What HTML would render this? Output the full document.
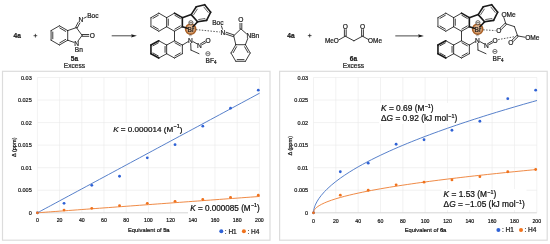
<!DOCTYPE html>
<html><head><meta charset="utf-8"><title>Figure</title>
<style>html,body{margin:0;padding:0;background:#fff}svg{display:block}text{font-family:"Liberation Sans",sans-serif}</style>
</head><body>
<svg width="550" height="244" viewBox="0 0 550 244">
<defs><radialGradient id="brg" cx="0.5" cy="0.4" r="0.6"><stop offset="0" stop-color="#e6c3a3"/><stop offset="1" stop-color="#cf9462"/></radialGradient></defs>
<rect width="550" height="244" fill="#fff"/>
<line x1="59.40" y1="25.80" x2="67.71" y2="30.60" stroke="#1a1a1a" stroke-width="0.85" stroke-linecap="round" />
<line x1="67.71" y1="30.60" x2="67.71" y2="40.20" stroke="#1a1a1a" stroke-width="0.85" stroke-linecap="round" />
<line x1="67.71" y1="40.20" x2="59.40" y2="45.00" stroke="#1a1a1a" stroke-width="0.85" stroke-linecap="round" />
<line x1="59.40" y1="45.00" x2="51.09" y2="40.20" stroke="#1a1a1a" stroke-width="0.85" stroke-linecap="round" />
<line x1="51.09" y1="40.20" x2="51.09" y2="30.60" stroke="#1a1a1a" stroke-width="0.85" stroke-linecap="round" />
<line x1="51.09" y1="30.60" x2="59.40" y2="25.80" stroke="#1a1a1a" stroke-width="0.85" stroke-linecap="round" />
<line x1="59.76" y1="27.97" x2="65.65" y2="31.37" stroke="#1a1a1a" stroke-width="0.85" stroke-linecap="round" />
<line x1="65.65" y1="39.43" x2="59.76" y2="42.83" stroke="#1a1a1a" stroke-width="0.85" stroke-linecap="round" />
<line x1="52.79" y1="38.80" x2="52.79" y2="32.00" stroke="#1a1a1a" stroke-width="0.85" stroke-linecap="round" />
<line x1="67.71" y1="30.60" x2="76.40" y2="27.60" stroke="#1a1a1a" stroke-width="0.85" stroke-linecap="round" />
<line x1="76.40" y1="27.60" x2="82.10" y2="35.40" stroke="#1a1a1a" stroke-width="0.85" stroke-linecap="round" />
<line x1="82.10" y1="35.40" x2="77.93" y2="41.10" stroke="#1a1a1a" stroke-width="0.85" stroke-linecap="round" />
<line x1="73.94" y1="42.35" x2="67.71" y2="40.20" stroke="#1a1a1a" stroke-width="0.85" stroke-linecap="round" />
<text transform="translate(76.60,45.60) scale(0.96,1)" font-size="6.9" text-anchor="middle" font-weight="normal" fill="#1a1a1a" stroke="#1a1a1a" stroke-width="0.22" >N</text>
<text transform="translate(78.90,52.00) scale(0.96,1)" font-size="6.9" text-anchor="middle" font-weight="normal" fill="#1a1a1a" stroke="#1a1a1a" stroke-width="0.22" >Bn</text>
<line x1="82.10" y1="36.30" x2="88.80" y2="36.30" stroke="#1a1a1a" stroke-width="0.85" stroke-linecap="round" />
<line x1="82.10" y1="34.50" x2="88.80" y2="34.50" stroke="#1a1a1a" stroke-width="0.85" stroke-linecap="round" />
<text transform="translate(92.40,38.00) scale(0.96,1)" font-size="6.9" text-anchor="middle" font-weight="normal" fill="#1a1a1a" stroke="#1a1a1a" stroke-width="0.22" >O</text>
<line x1="77.19" y1="28.02" x2="79.90" y2="22.97" stroke="#1a1a1a" stroke-width="0.85" stroke-linecap="round" />
<line x1="75.61" y1="27.18" x2="78.31" y2="22.12" stroke="#1a1a1a" stroke-width="0.85" stroke-linecap="round" />
<text transform="translate(81.00,21.60) scale(0.96,1)" font-size="6.9" text-anchor="middle" font-weight="normal" fill="#1a1a1a" stroke="#1a1a1a" stroke-width="0.22" >N</text>
<line x1="83.90" y1="18.20" x2="86.30" y2="17.00" stroke="#1a1a1a" stroke-width="0.85" stroke-linecap="round" />
<text transform="translate(87.20,18.40) scale(0.96,1)" font-size="6.9" text-anchor="start" font-weight="normal" fill="#1a1a1a" stroke="#1a1a1a" stroke-width="0.22" >Boc</text>
<text transform="translate(17.20,37.90) scale(1.0,1)" font-size="6.6" text-anchor="middle" font-weight="bold" fill="#1a1a1a" stroke="#1a1a1a" stroke-width="0.22" >4a</text>
<text transform="translate(74.40,60.80) scale(1.0,1)" font-size="6.6" text-anchor="middle" font-weight="bold" fill="#1a1a1a" stroke="#1a1a1a" stroke-width="0.22" >5a</text>
<text transform="translate(74.40,67.60) scale(0.96,1)" font-size="6.9" text-anchor="middle" font-weight="normal" fill="#1a1a1a" stroke="#1a1a1a" stroke-width="0.22" >Excess</text>
<line x1="33.95" y1="35.70" x2="36.85" y2="35.70" stroke="#1a1a1a" stroke-width="0.75" stroke-linecap="round" />
<line x1="35.40" y1="34.25" x2="35.40" y2="37.15" stroke="#1a1a1a" stroke-width="0.75" stroke-linecap="round" />
<line x1="112.10" y1="35.80" x2="132.90" y2="35.80" stroke="#1a1a1a" stroke-width="0.8" stroke-linecap="round" />
<polygon points="136.90,35.80 131.10,34.20 131.90,35.80 131.10,37.40" fill="#1a1a1a"/>
<line x1="158.80" y1="13.14" x2="166.65" y2="17.67" stroke="#1a1a1a" stroke-width="0.85" stroke-linecap="round" />
<line x1="166.65" y1="17.67" x2="166.65" y2="26.73" stroke="#1a1a1a" stroke-width="0.85" stroke-linecap="round" />
<line x1="166.65" y1="26.73" x2="158.80" y2="31.26" stroke="#1a1a1a" stroke-width="0.85" stroke-linecap="round" />
<line x1="158.80" y1="31.26" x2="150.95" y2="26.73" stroke="#1a1a1a" stroke-width="0.85" stroke-linecap="round" />
<line x1="150.95" y1="26.73" x2="150.95" y2="17.67" stroke="#1a1a1a" stroke-width="0.85" stroke-linecap="round" />
<line x1="150.95" y1="17.67" x2="158.80" y2="13.14" stroke="#1a1a1a" stroke-width="0.85" stroke-linecap="round" />
<line x1="152.97" y1="18.36" x2="158.39" y2="15.23" stroke="#1a1a1a" stroke-width="0.85" stroke-linecap="round" />
<line x1="158.39" y1="29.17" x2="152.97" y2="26.04" stroke="#1a1a1a" stroke-width="0.85" stroke-linecap="round" />
<line x1="166.65" y1="17.67" x2="174.50" y2="13.14" stroke="#1a1a1a" stroke-width="0.85" stroke-linecap="round" />
<line x1="174.50" y1="13.14" x2="182.35" y2="17.67" stroke="#1a1a1a" stroke-width="1.6" stroke-linecap="round" />
<line x1="182.35" y1="17.67" x2="182.35" y2="26.73" stroke="#1a1a1a" stroke-width="1.6" stroke-linecap="round" />
<line x1="182.35" y1="26.73" x2="174.50" y2="31.26" stroke="#1a1a1a" stroke-width="0.85" stroke-linecap="round" />
<line x1="174.50" y1="31.26" x2="166.65" y2="26.73" stroke="#1a1a1a" stroke-width="0.85" stroke-linecap="round" />
<line x1="168.25" y1="25.33" x2="168.25" y2="19.07" stroke="#1a1a1a" stroke-width="0.85" stroke-linecap="round" />
<line x1="174.86" y1="15.31" x2="180.28" y2="18.44" stroke="#1a1a1a" stroke-width="0.85" stroke-linecap="round" />
<line x1="180.28" y1="25.96" x2="174.86" y2="29.09" stroke="#1a1a1a" stroke-width="0.85" stroke-linecap="round" />
<circle cx="190.70" cy="29.20" r="5.1" fill="url(#brg)" stroke="#a95f25" stroke-width="1.5"/>
<line x1="182.35" y1="17.67" x2="191.20" y2="14.60" stroke="#1a1a1a" stroke-width="1.6" stroke-linecap="round" />
<line x1="191.20" y1="14.60" x2="197.60" y2="21.80" stroke="#1a1a1a" stroke-width="1.6" stroke-linecap="round" />
<line x1="197.60" y1="21.80" x2="192.88" y2="26.86" stroke="#1a1a1a" stroke-width="1.6" stroke-linecap="round" />
<line x1="182.35" y1="26.73" x2="187.25" y2="28.18" stroke="#1a1a1a" stroke-width="1.6" stroke-linecap="round" />
<line x1="191.20" y1="14.60" x2="196.30" y2="6.80" stroke="#1a1a1a" stroke-width="1.6" stroke-linecap="round" />
<line x1="196.30" y1="6.80" x2="204.70" y2="4.70" stroke="#1a1a1a" stroke-width="1.6" stroke-linecap="round" />
<line x1="204.70" y1="4.70" x2="210.70" y2="12.20" stroke="#1a1a1a" stroke-width="1.6" stroke-linecap="round" />
<line x1="210.70" y1="12.20" x2="206.60" y2="20.40" stroke="#1a1a1a" stroke-width="1.6" stroke-linecap="round" />
<line x1="206.60" y1="20.40" x2="197.60" y2="21.80" stroke="#1a1a1a" stroke-width="1.6" stroke-linecap="round" />
<line x1="193.72" y1="14.58" x2="197.29" y2="9.12" stroke="#1a1a1a" stroke-width="0.7" stroke-linecap="round" />
<line x1="203.93" y1="7.11" x2="208.19" y2="12.42" stroke="#1a1a1a" stroke-width="0.7" stroke-linecap="round" />
<line x1="204.89" y1="18.54" x2="198.66" y2="19.51" stroke="#1a1a1a" stroke-width="0.7" stroke-linecap="round" />
<text transform="translate(190.90,31.70) scale(0.96,1)" font-size="6.9" text-anchor="middle" font-weight="normal" fill="#1a1a1a" stroke="#1a1a1a" stroke-width="0.22" >Br</text>
<circle cx="190.90" cy="22.70" r="2.1" fill="#f4ebe2" stroke="#1a1a1a" stroke-width="0.6"/>
<line x1="189.74" y1="22.70" x2="192.05" y2="22.70" stroke="#1a1a1a" stroke-width="0.6" stroke-linecap="round" />
<line x1="158.80" y1="40.75" x2="166.65" y2="45.07" stroke="#1a1a1a" stroke-width="0.85" stroke-linecap="round" />
<line x1="166.65" y1="45.07" x2="166.65" y2="53.73" stroke="#1a1a1a" stroke-width="0.85" stroke-linecap="round" />
<line x1="166.65" y1="53.73" x2="158.80" y2="58.05" stroke="#1a1a1a" stroke-width="0.85" stroke-linecap="round" />
<line x1="158.80" y1="58.05" x2="150.95" y2="53.73" stroke="#1a1a1a" stroke-width="1.6" stroke-linecap="round" />
<line x1="150.95" y1="53.73" x2="150.95" y2="45.07" stroke="#1a1a1a" stroke-width="1.6" stroke-linecap="round" />
<line x1="150.95" y1="45.07" x2="158.80" y2="40.75" stroke="#1a1a1a" stroke-width="1.6" stroke-linecap="round" />
<line x1="152.95" y1="45.80" x2="158.35" y2="42.82" stroke="#1a1a1a" stroke-width="0.85" stroke-linecap="round" />
<line x1="158.35" y1="55.98" x2="152.95" y2="53.00" stroke="#1a1a1a" stroke-width="0.85" stroke-linecap="round" />
<line x1="165.05" y1="46.47" x2="165.05" y2="52.33" stroke="#1a1a1a" stroke-width="0.85" stroke-linecap="round" />
<line x1="166.65" y1="45.07" x2="174.50" y2="40.75" stroke="#1a1a1a" stroke-width="0.85" stroke-linecap="round" />
<line x1="174.50" y1="40.75" x2="182.35" y2="45.07" stroke="#1a1a1a" stroke-width="0.85" stroke-linecap="round" />
<line x1="182.35" y1="45.07" x2="182.35" y2="53.73" stroke="#1a1a1a" stroke-width="0.85" stroke-linecap="round" />
<line x1="182.35" y1="53.73" x2="174.50" y2="58.05" stroke="#1a1a1a" stroke-width="0.85" stroke-linecap="round" />
<line x1="174.50" y1="58.05" x2="166.65" y2="53.73" stroke="#1a1a1a" stroke-width="0.85" stroke-linecap="round" />
<line x1="174.95" y1="42.82" x2="180.35" y2="45.80" stroke="#1a1a1a" stroke-width="0.85" stroke-linecap="round" />
<line x1="180.35" y1="53.00" x2="174.95" y2="55.98" stroke="#1a1a1a" stroke-width="0.85" stroke-linecap="round" />
<line x1="174.50" y1="31.26" x2="174.50" y2="40.75" stroke="#1a1a1a" stroke-width="0.85" stroke-linecap="round" />
<line x1="182.35" y1="45.07" x2="188.27" y2="41.53" stroke="#1a1a1a" stroke-width="0.85" stroke-linecap="round" />
<text transform="translate(190.50,42.60) scale(0.96,1)" font-size="6.9" text-anchor="middle" font-weight="normal" fill="#1a1a1a" stroke="#1a1a1a" stroke-width="0.22" >N</text>
<text transform="translate(199.50,47.60) scale(0.96,1)" font-size="6.9" text-anchor="middle" font-weight="normal" fill="#1a1a1a" stroke="#1a1a1a" stroke-width="0.22" >N</text>
<text transform="translate(208.00,42.90) scale(0.96,1)" font-size="6.9" text-anchor="middle" font-weight="normal" fill="#1a1a1a" stroke="#1a1a1a" stroke-width="0.22" >O</text>
<line x1="192.95" y1="41.56" x2="197.05" y2="43.84" stroke="#1a1a1a" stroke-width="0.85" stroke-linecap="round" />
<line x1="202.42" y1="44.50" x2="205.76" y2="42.65" stroke="#1a1a1a" stroke-width="0.85" stroke-linecap="round" />
<line x1="201.65" y1="43.10" x2="204.99" y2="41.25" stroke="#1a1a1a" stroke-width="0.85" stroke-linecap="round" />
<line x1="190.70" y1="43.40" x2="191.00" y2="50.10" stroke="#1a1a1a" stroke-width="0.85" stroke-linecap="round" />
<line x1="191.00" y1="50.10" x2="199.00" y2="53.70" stroke="#1a1a1a" stroke-width="0.85" stroke-linecap="round" />
<line x1="189.70" y1="34.60" x2="191.10" y2="34.60" stroke="#444" stroke-width="0.4" stroke-linecap="round" />
<line x1="189.40" y1="35.70" x2="191.40" y2="35.70" stroke="#444" stroke-width="0.4" stroke-linecap="round" />
<circle cx="207.90" cy="53.70" r="2.1" fill="none" stroke="#1a1a1a" stroke-width="0.6"/>
<line x1="206.75" y1="53.70" x2="209.06" y2="53.70" stroke="#1a1a1a" stroke-width="0.6" stroke-linecap="round" />
<text transform="translate(205.60,62.70) scale(0.96,1)" font-size="6.9" text-anchor="start" font-weight="normal" fill="#1a1a1a" stroke="#1a1a1a" stroke-width="0.22" >BF<tspan font-size="4.8" dy="1.4">4</tspan></text>
<line x1="235.80" y1="44.69" x2="245.40" y2="44.69" stroke="#1a1a1a" stroke-width="0.85" stroke-linecap="round" />
<line x1="245.40" y1="44.69" x2="250.20" y2="53.00" stroke="#1a1a1a" stroke-width="0.85" stroke-linecap="round" />
<line x1="250.20" y1="53.00" x2="245.40" y2="61.31" stroke="#1a1a1a" stroke-width="0.85" stroke-linecap="round" />
<line x1="245.40" y1="61.31" x2="235.80" y2="61.31" stroke="#1a1a1a" stroke-width="0.85" stroke-linecap="round" />
<line x1="235.80" y1="61.31" x2="231.00" y2="53.00" stroke="#1a1a1a" stroke-width="0.85" stroke-linecap="round" />
<line x1="231.00" y1="53.00" x2="235.80" y2="44.69" stroke="#1a1a1a" stroke-width="0.85" stroke-linecap="round" />
<line x1="244.63" y1="46.75" x2="248.03" y2="52.64" stroke="#1a1a1a" stroke-width="0.85" stroke-linecap="round" />
<line x1="244.00" y1="59.61" x2="237.20" y2="59.61" stroke="#1a1a1a" stroke-width="0.85" stroke-linecap="round" />
<line x1="233.17" y1="52.64" x2="236.57" y2="46.75" stroke="#1a1a1a" stroke-width="0.85" stroke-linecap="round" />
<line x1="235.80" y1="44.69" x2="233.70" y2="35.80" stroke="#1a1a1a" stroke-width="0.85" stroke-linecap="round" />
<line x1="233.70" y1="35.80" x2="240.90" y2="28.90" stroke="#1a1a1a" stroke-width="0.85" stroke-linecap="round" />
<line x1="240.90" y1="28.90" x2="246.54" y2="33.83" stroke="#1a1a1a" stroke-width="0.85" stroke-linecap="round" />
<line x1="247.80" y1="38.42" x2="245.40" y2="44.69" stroke="#1a1a1a" stroke-width="0.85" stroke-linecap="round" />
<text transform="translate(246.40,38.20) scale(0.96,1)" font-size="6.9" text-anchor="start" font-weight="normal" fill="#1a1a1a" stroke="#1a1a1a" stroke-width="0.22" >NBn</text>
<line x1="241.80" y1="28.90" x2="241.80" y2="23.40" stroke="#1a1a1a" stroke-width="0.85" stroke-linecap="round" />
<line x1="240.00" y1="28.90" x2="240.00" y2="23.40" stroke="#1a1a1a" stroke-width="0.85" stroke-linecap="round" />
<text transform="translate(240.90,22.40) scale(0.96,1)" font-size="6.9" text-anchor="middle" font-weight="normal" fill="#1a1a1a" stroke="#1a1a1a" stroke-width="0.22" >O</text>
<line x1="233.99" y1="34.95" x2="226.13" y2="32.30" stroke="#1a1a1a" stroke-width="0.85" stroke-linecap="round" />
<line x1="233.41" y1="36.65" x2="225.56" y2="34.01" stroke="#1a1a1a" stroke-width="0.85" stroke-linecap="round" />
<text transform="translate(223.00,34.60) scale(0.96,1)" font-size="6.9" text-anchor="middle" font-weight="normal" fill="#1a1a1a" stroke="#1a1a1a" stroke-width="0.22" >N</text>
<line x1="221.40" y1="25.90" x2="222.50" y2="29.20" stroke="#1a1a1a" stroke-width="0.85" stroke-linecap="round" />
<text transform="translate(212.20,25.30) scale(0.96,1)" font-size="6.9" text-anchor="start" font-weight="normal" fill="#1a1a1a" stroke="#1a1a1a" stroke-width="0.22" >Boc</text>
<line x1="196.00" y1="29.60" x2="219.80" y2="32.00" stroke="#5a5a5a" stroke-width="1.0" stroke-dasharray="1.5 1.4"/>
<line x1="339.00" y1="39.80" x2="345.30" y2="36.20" stroke="#1a1a1a" stroke-width="0.85" stroke-linecap="round" />
<line x1="345.30" y1="36.20" x2="353.90" y2="40.80" stroke="#1a1a1a" stroke-width="0.85" stroke-linecap="round" />
<line x1="353.90" y1="40.80" x2="362.50" y2="36.20" stroke="#1a1a1a" stroke-width="0.85" stroke-linecap="round" />
<line x1="362.50" y1="36.20" x2="368.60" y2="39.60" stroke="#1a1a1a" stroke-width="0.85" stroke-linecap="round" />
<line x1="346.20" y1="36.20" x2="346.20" y2="29.60" stroke="#1a1a1a" stroke-width="0.85" stroke-linecap="round" />
<line x1="344.40" y1="36.20" x2="344.40" y2="29.60" stroke="#1a1a1a" stroke-width="0.85" stroke-linecap="round" />
<line x1="363.40" y1="36.20" x2="363.40" y2="29.60" stroke="#1a1a1a" stroke-width="0.85" stroke-linecap="round" />
<line x1="361.60" y1="36.20" x2="361.60" y2="29.60" stroke="#1a1a1a" stroke-width="0.85" stroke-linecap="round" />
<text transform="translate(345.30,28.60) scale(0.96,1)" font-size="6.9" text-anchor="middle" font-weight="normal" fill="#1a1a1a" stroke="#1a1a1a" stroke-width="0.22" >O</text>
<text transform="translate(362.50,28.60) scale(0.96,1)" font-size="6.9" text-anchor="middle" font-weight="normal" fill="#1a1a1a" stroke="#1a1a1a" stroke-width="0.22" >O</text>
<text transform="translate(338.80,43.10) scale(0.93,1)" font-size="6.9" text-anchor="end" font-weight="normal" fill="#1a1a1a" stroke="#1a1a1a" stroke-width="0.22" >MeO</text>
<text transform="translate(368.10,43.10) scale(0.93,1)" font-size="6.9" text-anchor="start" font-weight="normal" fill="#1a1a1a" stroke="#1a1a1a" stroke-width="0.22" >OMe</text>
<text transform="translate(291.00,37.80) scale(1.0,1)" font-size="6.6" text-anchor="middle" font-weight="bold" fill="#1a1a1a" stroke="#1a1a1a" stroke-width="0.22" >4a</text>
<line x1="308.25" y1="35.60" x2="311.15" y2="35.60" stroke="#1a1a1a" stroke-width="0.75" stroke-linecap="round" />
<line x1="309.70" y1="34.15" x2="309.70" y2="37.05" stroke="#1a1a1a" stroke-width="0.75" stroke-linecap="round" />
<text transform="translate(353.50,60.80) scale(1.0,1)" font-size="6.6" text-anchor="middle" font-weight="bold" fill="#1a1a1a" stroke="#1a1a1a" stroke-width="0.22" >6a</text>
<text transform="translate(353.50,67.60) scale(0.96,1)" font-size="6.9" text-anchor="middle" font-weight="normal" fill="#1a1a1a" stroke="#1a1a1a" stroke-width="0.22" >Excess</text>
<line x1="395.70" y1="35.90" x2="419.90" y2="35.90" stroke="#1a1a1a" stroke-width="0.8" stroke-linecap="round" />
<polygon points="423.90,35.90 418.10,34.30 418.90,35.90 418.10,37.50" fill="#1a1a1a"/>
<line x1="445.80" y1="13.14" x2="453.65" y2="17.67" stroke="#1a1a1a" stroke-width="0.85" stroke-linecap="round" />
<line x1="453.65" y1="17.67" x2="453.65" y2="26.73" stroke="#1a1a1a" stroke-width="0.85" stroke-linecap="round" />
<line x1="453.65" y1="26.73" x2="445.80" y2="31.26" stroke="#1a1a1a" stroke-width="0.85" stroke-linecap="round" />
<line x1="445.80" y1="31.26" x2="437.95" y2="26.73" stroke="#1a1a1a" stroke-width="0.85" stroke-linecap="round" />
<line x1="437.95" y1="26.73" x2="437.95" y2="17.67" stroke="#1a1a1a" stroke-width="0.85" stroke-linecap="round" />
<line x1="437.95" y1="17.67" x2="445.80" y2="13.14" stroke="#1a1a1a" stroke-width="0.85" stroke-linecap="round" />
<line x1="439.97" y1="18.36" x2="445.39" y2="15.23" stroke="#1a1a1a" stroke-width="0.85" stroke-linecap="round" />
<line x1="445.39" y1="29.17" x2="439.97" y2="26.04" stroke="#1a1a1a" stroke-width="0.85" stroke-linecap="round" />
<line x1="453.65" y1="17.67" x2="461.50" y2="13.14" stroke="#1a1a1a" stroke-width="0.85" stroke-linecap="round" />
<line x1="461.50" y1="13.14" x2="469.35" y2="17.67" stroke="#1a1a1a" stroke-width="1.6" stroke-linecap="round" />
<line x1="469.35" y1="17.67" x2="469.35" y2="26.73" stroke="#1a1a1a" stroke-width="1.6" stroke-linecap="round" />
<line x1="469.35" y1="26.73" x2="461.50" y2="31.26" stroke="#1a1a1a" stroke-width="0.85" stroke-linecap="round" />
<line x1="461.50" y1="31.26" x2="453.65" y2="26.73" stroke="#1a1a1a" stroke-width="0.85" stroke-linecap="round" />
<line x1="455.25" y1="25.33" x2="455.25" y2="19.07" stroke="#1a1a1a" stroke-width="0.85" stroke-linecap="round" />
<line x1="461.86" y1="15.31" x2="467.28" y2="18.44" stroke="#1a1a1a" stroke-width="0.85" stroke-linecap="round" />
<line x1="467.28" y1="25.96" x2="461.86" y2="29.09" stroke="#1a1a1a" stroke-width="0.85" stroke-linecap="round" />
<circle cx="477.70" cy="29.20" r="5.1" fill="url(#brg)" stroke="#a95f25" stroke-width="1.5"/>
<line x1="469.35" y1="17.67" x2="478.20" y2="14.60" stroke="#1a1a1a" stroke-width="1.6" stroke-linecap="round" />
<line x1="478.20" y1="14.60" x2="484.60" y2="21.80" stroke="#1a1a1a" stroke-width="1.6" stroke-linecap="round" />
<line x1="484.60" y1="21.80" x2="479.88" y2="26.86" stroke="#1a1a1a" stroke-width="1.6" stroke-linecap="round" />
<line x1="469.35" y1="26.73" x2="474.25" y2="28.18" stroke="#1a1a1a" stroke-width="1.6" stroke-linecap="round" />
<line x1="478.20" y1="14.60" x2="483.30" y2="6.80" stroke="#1a1a1a" stroke-width="1.6" stroke-linecap="round" />
<line x1="483.30" y1="6.80" x2="491.70" y2="4.70" stroke="#1a1a1a" stroke-width="1.6" stroke-linecap="round" />
<line x1="491.70" y1="4.70" x2="497.70" y2="12.20" stroke="#1a1a1a" stroke-width="1.6" stroke-linecap="round" />
<line x1="497.70" y1="12.20" x2="493.60" y2="20.40" stroke="#1a1a1a" stroke-width="1.6" stroke-linecap="round" />
<line x1="493.60" y1="20.40" x2="484.60" y2="21.80" stroke="#1a1a1a" stroke-width="1.6" stroke-linecap="round" />
<line x1="480.72" y1="14.58" x2="484.29" y2="9.12" stroke="#1a1a1a" stroke-width="0.7" stroke-linecap="round" />
<line x1="490.93" y1="7.11" x2="495.19" y2="12.42" stroke="#1a1a1a" stroke-width="0.7" stroke-linecap="round" />
<line x1="491.89" y1="18.54" x2="485.66" y2="19.51" stroke="#1a1a1a" stroke-width="0.7" stroke-linecap="round" />
<text transform="translate(477.90,31.70) scale(0.96,1)" font-size="6.9" text-anchor="middle" font-weight="normal" fill="#1a1a1a" stroke="#1a1a1a" stroke-width="0.22" >Br</text>
<circle cx="477.90" cy="22.70" r="2.1" fill="#f4ebe2" stroke="#1a1a1a" stroke-width="0.6"/>
<line x1="476.75" y1="22.70" x2="479.05" y2="22.70" stroke="#1a1a1a" stroke-width="0.6" stroke-linecap="round" />
<line x1="445.80" y1="40.75" x2="453.65" y2="45.07" stroke="#1a1a1a" stroke-width="0.85" stroke-linecap="round" />
<line x1="453.65" y1="45.07" x2="453.65" y2="53.73" stroke="#1a1a1a" stroke-width="0.85" stroke-linecap="round" />
<line x1="453.65" y1="53.73" x2="445.80" y2="58.05" stroke="#1a1a1a" stroke-width="0.85" stroke-linecap="round" />
<line x1="445.80" y1="58.05" x2="437.95" y2="53.73" stroke="#1a1a1a" stroke-width="1.6" stroke-linecap="round" />
<line x1="437.95" y1="53.73" x2="437.95" y2="45.07" stroke="#1a1a1a" stroke-width="1.6" stroke-linecap="round" />
<line x1="437.95" y1="45.07" x2="445.80" y2="40.75" stroke="#1a1a1a" stroke-width="1.6" stroke-linecap="round" />
<line x1="439.95" y1="45.80" x2="445.35" y2="42.82" stroke="#1a1a1a" stroke-width="0.85" stroke-linecap="round" />
<line x1="445.35" y1="55.98" x2="439.95" y2="53.00" stroke="#1a1a1a" stroke-width="0.85" stroke-linecap="round" />
<line x1="452.05" y1="46.47" x2="452.05" y2="52.33" stroke="#1a1a1a" stroke-width="0.85" stroke-linecap="round" />
<line x1="453.65" y1="45.07" x2="461.50" y2="40.75" stroke="#1a1a1a" stroke-width="0.85" stroke-linecap="round" />
<line x1="461.50" y1="40.75" x2="469.35" y2="45.07" stroke="#1a1a1a" stroke-width="0.85" stroke-linecap="round" />
<line x1="469.35" y1="45.07" x2="469.35" y2="53.73" stroke="#1a1a1a" stroke-width="0.85" stroke-linecap="round" />
<line x1="469.35" y1="53.73" x2="461.50" y2="58.05" stroke="#1a1a1a" stroke-width="0.85" stroke-linecap="round" />
<line x1="461.50" y1="58.05" x2="453.65" y2="53.73" stroke="#1a1a1a" stroke-width="0.85" stroke-linecap="round" />
<line x1="461.95" y1="42.82" x2="467.35" y2="45.80" stroke="#1a1a1a" stroke-width="0.85" stroke-linecap="round" />
<line x1="467.35" y1="53.00" x2="461.95" y2="55.98" stroke="#1a1a1a" stroke-width="0.85" stroke-linecap="round" />
<line x1="461.50" y1="31.26" x2="461.50" y2="40.75" stroke="#1a1a1a" stroke-width="0.85" stroke-linecap="round" />
<line x1="469.35" y1="45.07" x2="475.27" y2="41.53" stroke="#1a1a1a" stroke-width="0.85" stroke-linecap="round" />
<text transform="translate(477.50,42.60) scale(0.96,1)" font-size="6.9" text-anchor="middle" font-weight="normal" fill="#1a1a1a" stroke="#1a1a1a" stroke-width="0.22" >N</text>
<text transform="translate(486.50,47.60) scale(0.96,1)" font-size="6.9" text-anchor="middle" font-weight="normal" fill="#1a1a1a" stroke="#1a1a1a" stroke-width="0.22" >N</text>
<text transform="translate(495.00,42.90) scale(0.96,1)" font-size="6.9" text-anchor="middle" font-weight="normal" fill="#1a1a1a" stroke="#1a1a1a" stroke-width="0.22" >O</text>
<line x1="479.95" y1="41.56" x2="484.05" y2="43.84" stroke="#1a1a1a" stroke-width="0.85" stroke-linecap="round" />
<line x1="489.42" y1="44.50" x2="492.76" y2="42.65" stroke="#1a1a1a" stroke-width="0.85" stroke-linecap="round" />
<line x1="488.65" y1="43.10" x2="491.99" y2="41.25" stroke="#1a1a1a" stroke-width="0.85" stroke-linecap="round" />
<line x1="477.70" y1="43.40" x2="478.00" y2="50.10" stroke="#1a1a1a" stroke-width="0.85" stroke-linecap="round" />
<line x1="478.00" y1="50.10" x2="486.00" y2="53.70" stroke="#1a1a1a" stroke-width="0.85" stroke-linecap="round" />
<line x1="476.70" y1="34.60" x2="478.10" y2="34.60" stroke="#444" stroke-width="0.4" stroke-linecap="round" />
<line x1="476.40" y1="35.70" x2="478.40" y2="35.70" stroke="#444" stroke-width="0.4" stroke-linecap="round" />
<circle cx="494.90" cy="51.50" r="2.1" fill="none" stroke="#1a1a1a" stroke-width="0.6"/>
<line x1="493.75" y1="51.50" x2="496.05" y2="51.50" stroke="#1a1a1a" stroke-width="0.6" stroke-linecap="round" />
<text transform="translate(492.60,60.50) scale(0.96,1)" font-size="6.9" text-anchor="start" font-weight="normal" fill="#1a1a1a" stroke="#1a1a1a" stroke-width="0.22" >BF<tspan font-size="4.8" dy="1.4">4</tspan></text>
<line x1="503.80" y1="17.40" x2="505.80" y2="23.80" stroke="#1a1a1a" stroke-width="0.85" stroke-linecap="round" />
<line x1="505.80" y1="23.80" x2="514.40" y2="26.60" stroke="#1a1a1a" stroke-width="0.85" stroke-linecap="round" />
<line x1="514.40" y1="26.60" x2="517.60" y2="35.90" stroke="#1a1a1a" stroke-width="0.85" stroke-linecap="round" />
<line x1="517.60" y1="35.90" x2="524.80" y2="37.20" stroke="#1a1a1a" stroke-width="0.85" stroke-linecap="round" />
<line x1="505.17" y1="23.16" x2="500.20" y2="28.05" stroke="#1a1a1a" stroke-width="0.85" stroke-linecap="round" />
<line x1="506.43" y1="24.44" x2="501.47" y2="29.33" stroke="#1a1a1a" stroke-width="0.85" stroke-linecap="round" />
<line x1="516.97" y1="35.26" x2="512.21" y2="39.95" stroke="#1a1a1a" stroke-width="0.85" stroke-linecap="round" />
<line x1="518.23" y1="36.54" x2="513.47" y2="41.24" stroke="#1a1a1a" stroke-width="0.85" stroke-linecap="round" />
<text transform="translate(498.70,33.20) scale(0.96,1)" font-size="6.9" text-anchor="middle" font-weight="normal" fill="#1a1a1a" stroke="#1a1a1a" stroke-width="0.22" >O</text>
<text transform="translate(510.70,45.10) scale(0.96,1)" font-size="6.9" text-anchor="middle" font-weight="normal" fill="#1a1a1a" stroke="#1a1a1a" stroke-width="0.22" >O</text>
<text transform="translate(501.40,16.60) scale(0.96,1)" font-size="6.9" text-anchor="start" font-weight="normal" fill="#1a1a1a" stroke="#1a1a1a" stroke-width="0.22" >OMe</text>
<text transform="translate(525.20,40.20) scale(0.96,1)" font-size="6.9" text-anchor="start" font-weight="normal" fill="#1a1a1a" stroke="#1a1a1a" stroke-width="0.22" >OMe</text>
<line x1="483.20" y1="29.80" x2="495.40" y2="30.60" stroke="#5a5a5a" stroke-width="1.0" stroke-dasharray="1.5 1.4"/>
<line x1="498.20" y1="39.60" x2="516.00" y2="36.40" stroke="#5a5a5a" stroke-width="1.0" stroke-dasharray="1.5 1.4"/>
<rect x="2.5" y="71.3" width="267.5" height="168.89999999999998" fill="#fff" stroke="#dcdcdc" stroke-width="1.2"/>
<line x1="37.4" y1="212.80" x2="259.4" y2="212.80" stroke="#e9e9e9" stroke-width="0.6"/>
<text transform="translate(31.70,214.80) scale(1.0,1)" font-size="5.5" text-anchor="end" font-weight="normal" fill="#111" stroke="#111" stroke-width="0.2" >0</text>
<line x1="37.4" y1="190.25" x2="259.4" y2="190.25" stroke="#e9e9e9" stroke-width="0.6"/>
<text transform="translate(31.70,192.25) scale(1.0,1)" font-size="5.5" text-anchor="end" font-weight="normal" fill="#111" stroke="#111" stroke-width="0.2" >0.005</text>
<line x1="37.4" y1="167.70" x2="259.4" y2="167.70" stroke="#e9e9e9" stroke-width="0.6"/>
<text transform="translate(31.70,169.70) scale(1.0,1)" font-size="5.5" text-anchor="end" font-weight="normal" fill="#111" stroke="#111" stroke-width="0.2" >0.01</text>
<line x1="37.4" y1="145.15" x2="259.4" y2="145.15" stroke="#e9e9e9" stroke-width="0.6"/>
<text transform="translate(31.70,147.15) scale(1.0,1)" font-size="5.5" text-anchor="end" font-weight="normal" fill="#111" stroke="#111" stroke-width="0.2" >0.015</text>
<line x1="37.4" y1="122.60" x2="259.4" y2="122.60" stroke="#e9e9e9" stroke-width="0.6"/>
<text transform="translate(31.70,124.60) scale(1.0,1)" font-size="5.5" text-anchor="end" font-weight="normal" fill="#111" stroke="#111" stroke-width="0.2" >0.02</text>
<line x1="37.4" y1="100.05" x2="259.4" y2="100.05" stroke="#e9e9e9" stroke-width="0.6"/>
<text transform="translate(31.70,102.05) scale(1.0,1)" font-size="5.5" text-anchor="end" font-weight="normal" fill="#111" stroke="#111" stroke-width="0.2" >0.025</text>
<line x1="37.4" y1="77.50" x2="259.4" y2="77.50" stroke="#e9e9e9" stroke-width="0.6"/>
<text transform="translate(31.70,79.50) scale(1.0,1)" font-size="5.5" text-anchor="end" font-weight="normal" fill="#111" stroke="#111" stroke-width="0.2" >0.03</text>
<line x1="37.40" y1="77.5" x2="37.40" y2="212.8" stroke="#e9e9e9" stroke-width="0.6"/>
<text transform="translate(37.40,222.30) scale(0.95,1)" font-size="5.5" text-anchor="middle" font-weight="normal" fill="#111" stroke="#111" stroke-width="0.2" >0</text>
<line x1="59.60" y1="77.5" x2="59.60" y2="212.8" stroke="#e9e9e9" stroke-width="0.6"/>
<text transform="translate(59.60,222.30) scale(0.95,1)" font-size="5.5" text-anchor="middle" font-weight="normal" fill="#111" stroke="#111" stroke-width="0.2" >20</text>
<line x1="81.80" y1="77.5" x2="81.80" y2="212.8" stroke="#e9e9e9" stroke-width="0.6"/>
<text transform="translate(81.80,222.30) scale(0.95,1)" font-size="5.5" text-anchor="middle" font-weight="normal" fill="#111" stroke="#111" stroke-width="0.2" >40</text>
<line x1="104.00" y1="77.5" x2="104.00" y2="212.8" stroke="#e9e9e9" stroke-width="0.6"/>
<text transform="translate(104.00,222.30) scale(0.95,1)" font-size="5.5" text-anchor="middle" font-weight="normal" fill="#111" stroke="#111" stroke-width="0.2" >60</text>
<line x1="126.20" y1="77.5" x2="126.20" y2="212.8" stroke="#e9e9e9" stroke-width="0.6"/>
<text transform="translate(126.20,222.30) scale(0.95,1)" font-size="5.5" text-anchor="middle" font-weight="normal" fill="#111" stroke="#111" stroke-width="0.2" >80</text>
<line x1="148.40" y1="77.5" x2="148.40" y2="212.8" stroke="#e9e9e9" stroke-width="0.6"/>
<text transform="translate(148.40,222.30) scale(0.95,1)" font-size="5.5" text-anchor="middle" font-weight="normal" fill="#111" stroke="#111" stroke-width="0.2" >100</text>
<line x1="170.60" y1="77.5" x2="170.60" y2="212.8" stroke="#e9e9e9" stroke-width="0.6"/>
<text transform="translate(170.60,222.30) scale(0.95,1)" font-size="5.5" text-anchor="middle" font-weight="normal" fill="#111" stroke="#111" stroke-width="0.2" >120</text>
<line x1="192.80" y1="77.5" x2="192.80" y2="212.8" stroke="#e9e9e9" stroke-width="0.6"/>
<text transform="translate(192.80,222.30) scale(0.95,1)" font-size="5.5" text-anchor="middle" font-weight="normal" fill="#111" stroke="#111" stroke-width="0.2" >140</text>
<line x1="215.00" y1="77.5" x2="215.00" y2="212.8" stroke="#e9e9e9" stroke-width="0.6"/>
<text transform="translate(215.00,222.30) scale(0.95,1)" font-size="5.5" text-anchor="middle" font-weight="normal" fill="#111" stroke="#111" stroke-width="0.2" >160</text>
<line x1="237.20" y1="77.5" x2="237.20" y2="212.8" stroke="#e9e9e9" stroke-width="0.6"/>
<text transform="translate(237.20,222.30) scale(0.95,1)" font-size="5.5" text-anchor="middle" font-weight="normal" fill="#111" stroke="#111" stroke-width="0.2" >180</text>
<line x1="259.40" y1="77.5" x2="259.40" y2="212.8" stroke="#e9e9e9" stroke-width="0.6"/>
<text transform="translate(259.40,222.30) scale(0.95,1)" font-size="5.5" text-anchor="middle" font-weight="normal" fill="#111" stroke="#111" stroke-width="0.2" >200</text>
<line x1="37.4" y1="212.8" x2="259.4" y2="212.8" stroke="#cfcfcf" stroke-width="0.7"/>
<rect x="111" y="123" width="72" height="11.5" fill="#fff"/>
<rect x="188" y="202" width="73" height="12.5" fill="#fff"/>
<text transform="translate(15.50,147.3) rotate(-90)" font-size="5.6" text-anchor="middle" fill="#111" stroke="#111" stroke-width="0.2">Δ (ppm)</text>
<path d="M37.40,212.80 L37.68,212.65 L37.95,212.50 L38.51,212.20 L39.06,211.90 L39.62,211.60 L40.73,211.01 L41.84,210.41 L42.95,209.81 L45.17,208.62 L48.50,206.82 L50.72,205.63 L55.16,203.24 L59.60,200.85 L64.04,198.46 L68.48,196.07 L72.92,193.68 L77.36,191.29 L81.80,188.90 L86.24,186.51 L90.68,184.12 L95.12,181.73 L99.56,179.34 L104.00,176.95 L108.44,174.56 L112.88,172.16 L117.32,169.77 L121.76,167.38 L126.20,164.99 L130.64,162.60 L135.08,160.21 L139.52,157.82 L143.96,155.43 L148.40,153.04 L152.84,150.65 L157.28,148.26 L161.72,145.87 L166.16,143.48 L170.60,141.09 L175.04,138.70 L179.48,136.31 L183.92,133.92 L188.36,131.53 L192.80,129.14 L197.24,126.75 L201.68,124.36 L206.12,121.97 L210.56,119.58 L215.00,117.19 L219.44,114.80 L223.88,112.41 L228.32,110.02 L232.76,107.63 L237.20,105.24 L241.64,102.85 L246.08,100.46 L250.52,98.07 L254.96,95.68 L259.62,93.17" fill="none" stroke="#4472c4" stroke-width="0.9"/>
<path d="M37.40,212.80 L37.68,212.78 L37.95,212.76 L38.51,212.72 L39.06,212.68 L39.62,212.64 L40.73,212.56 L41.84,212.47 L42.95,212.39 L45.17,212.23 L48.50,211.98 L50.72,211.82 L55.16,211.49 L59.60,211.17 L64.04,210.84 L68.48,210.51 L72.92,210.19 L77.36,209.86 L81.80,209.53 L86.24,209.21 L90.68,208.88 L95.12,208.56 L99.56,208.23 L104.00,207.90 L108.44,207.58 L112.88,207.25 L117.32,206.92 L121.76,206.60 L126.20,206.27 L130.64,205.94 L135.08,205.62 L139.52,205.29 L143.96,204.96 L148.40,204.64 L152.84,204.31 L157.28,203.98 L161.72,203.66 L166.16,203.33 L170.60,203.00 L175.04,202.68 L179.48,202.35 L183.92,202.02 L188.36,201.70 L192.80,201.37 L197.24,201.05 L201.68,200.72 L206.12,200.39 L210.56,200.07 L215.00,199.74 L219.44,199.41 L223.88,199.09 L228.32,198.76 L232.76,198.43 L237.20,198.11 L241.64,197.78 L246.08,197.45 L250.52,197.13 L254.96,196.80 L259.62,196.46" fill="none" stroke="#ed7d31" stroke-width="0.9"/>
<circle cx="37.40" cy="212.80" r="1.4" fill="#2f62d6"/>
<circle cx="64.04" cy="203.33" r="1.4" fill="#2f62d6"/>
<circle cx="91.79" cy="185.29" r="1.4" fill="#2f62d6"/>
<circle cx="119.54" cy="176.27" r="1.4" fill="#2f62d6"/>
<circle cx="147.29" cy="157.78" r="1.4" fill="#2f62d6"/>
<circle cx="175.04" cy="144.70" r="1.4" fill="#2f62d6"/>
<circle cx="202.79" cy="126.21" r="1.4" fill="#2f62d6"/>
<circle cx="230.54" cy="108.17" r="1.4" fill="#2f62d6"/>
<circle cx="258.29" cy="90.13" r="1.4" fill="#2f62d6"/>
<circle cx="37.40" cy="212.80" r="1.4" fill="#f0721c"/>
<circle cx="64.04" cy="210.09" r="1.4" fill="#f0721c"/>
<circle cx="91.79" cy="208.29" r="1.4" fill="#f0721c"/>
<circle cx="119.54" cy="205.72" r="1.4" fill="#f0721c"/>
<circle cx="147.29" cy="203.33" r="1.4" fill="#f0721c"/>
<circle cx="175.04" cy="201.30" r="1.4" fill="#f0721c"/>
<circle cx="202.79" cy="199.50" r="1.4" fill="#f0721c"/>
<circle cx="230.54" cy="197.29" r="1.4" fill="#f0721c"/>
<circle cx="258.29" cy="195.21" r="1.4" fill="#f0721c"/>
<text transform="translate(148.80,232.40) scale(1.0,1)" font-size="5.8" text-anchor="middle" font-weight="normal" fill="#111" stroke="#111" stroke-width="0.2" >Equivalent of <tspan font-weight="bold">5a</tspan></text>
<circle cx="221.30" cy="231.3" r="2.0" fill="#2f62d6"/>
<text transform="translate(224.80,233.65) scale(1.0,1)" font-size="6.5" text-anchor="start" font-weight="normal" fill="#1a1a1a" stroke="#1a1a1a" stroke-width="0.22" >: H1</text>
<circle cx="243.90" cy="231.3" r="2.0" fill="#f0721c"/>
<text transform="translate(247.40,233.65) scale(1.0,1)" font-size="6.5" text-anchor="start" font-weight="normal" fill="#1a1a1a" stroke="#1a1a1a" stroke-width="0.22" >: H4</text>
<rect x="279.6" y="71.3" width="267.6" height="168.89999999999998" fill="#fff" stroke="#dcdcdc" stroke-width="1.2"/>
<line x1="313.5" y1="212.80" x2="536.8" y2="212.80" stroke="#e9e9e9" stroke-width="0.6"/>
<text transform="translate(308.10,214.80) scale(1.0,1)" font-size="5.5" text-anchor="end" font-weight="normal" fill="#111" stroke="#111" stroke-width="0.2" >0</text>
<line x1="313.5" y1="190.25" x2="536.8" y2="190.25" stroke="#e9e9e9" stroke-width="0.6"/>
<text transform="translate(308.10,192.25) scale(1.0,1)" font-size="5.5" text-anchor="end" font-weight="normal" fill="#111" stroke="#111" stroke-width="0.2" >0.005</text>
<line x1="313.5" y1="167.70" x2="536.8" y2="167.70" stroke="#e9e9e9" stroke-width="0.6"/>
<text transform="translate(308.10,169.70) scale(1.0,1)" font-size="5.5" text-anchor="end" font-weight="normal" fill="#111" stroke="#111" stroke-width="0.2" >0.01</text>
<line x1="313.5" y1="145.15" x2="536.8" y2="145.15" stroke="#e9e9e9" stroke-width="0.6"/>
<text transform="translate(308.10,147.15) scale(1.0,1)" font-size="5.5" text-anchor="end" font-weight="normal" fill="#111" stroke="#111" stroke-width="0.2" >0.015</text>
<line x1="313.5" y1="122.60" x2="536.8" y2="122.60" stroke="#e9e9e9" stroke-width="0.6"/>
<text transform="translate(308.10,124.60) scale(1.0,1)" font-size="5.5" text-anchor="end" font-weight="normal" fill="#111" stroke="#111" stroke-width="0.2" >0.02</text>
<line x1="313.5" y1="100.05" x2="536.8" y2="100.05" stroke="#e9e9e9" stroke-width="0.6"/>
<text transform="translate(308.10,102.05) scale(1.0,1)" font-size="5.5" text-anchor="end" font-weight="normal" fill="#111" stroke="#111" stroke-width="0.2" >0.025</text>
<line x1="313.5" y1="77.50" x2="536.8" y2="77.50" stroke="#e9e9e9" stroke-width="0.6"/>
<text transform="translate(308.10,79.50) scale(1.0,1)" font-size="5.5" text-anchor="end" font-weight="normal" fill="#111" stroke="#111" stroke-width="0.2" >0.03</text>
<line x1="313.50" y1="77.5" x2="313.50" y2="212.8" stroke="#e9e9e9" stroke-width="0.6"/>
<text transform="translate(313.50,223.20) scale(0.95,1)" font-size="5.5" text-anchor="middle" font-weight="normal" fill="#111" stroke="#111" stroke-width="0.2" >0</text>
<line x1="335.83" y1="77.5" x2="335.83" y2="212.8" stroke="#e9e9e9" stroke-width="0.6"/>
<text transform="translate(335.83,223.20) scale(0.95,1)" font-size="5.5" text-anchor="middle" font-weight="normal" fill="#111" stroke="#111" stroke-width="0.2" >20</text>
<line x1="358.16" y1="77.5" x2="358.16" y2="212.8" stroke="#e9e9e9" stroke-width="0.6"/>
<text transform="translate(358.16,223.20) scale(0.95,1)" font-size="5.5" text-anchor="middle" font-weight="normal" fill="#111" stroke="#111" stroke-width="0.2" >40</text>
<line x1="380.49" y1="77.5" x2="380.49" y2="212.8" stroke="#e9e9e9" stroke-width="0.6"/>
<text transform="translate(380.49,223.20) scale(0.95,1)" font-size="5.5" text-anchor="middle" font-weight="normal" fill="#111" stroke="#111" stroke-width="0.2" >60</text>
<line x1="402.82" y1="77.5" x2="402.82" y2="212.8" stroke="#e9e9e9" stroke-width="0.6"/>
<text transform="translate(402.82,223.20) scale(0.95,1)" font-size="5.5" text-anchor="middle" font-weight="normal" fill="#111" stroke="#111" stroke-width="0.2" >80</text>
<line x1="425.15" y1="77.5" x2="425.15" y2="212.8" stroke="#e9e9e9" stroke-width="0.6"/>
<text transform="translate(425.15,223.20) scale(0.95,1)" font-size="5.5" text-anchor="middle" font-weight="normal" fill="#111" stroke="#111" stroke-width="0.2" >100</text>
<line x1="447.48" y1="77.5" x2="447.48" y2="212.8" stroke="#e9e9e9" stroke-width="0.6"/>
<text transform="translate(447.48,223.20) scale(0.95,1)" font-size="5.5" text-anchor="middle" font-weight="normal" fill="#111" stroke="#111" stroke-width="0.2" >120</text>
<line x1="469.81" y1="77.5" x2="469.81" y2="212.8" stroke="#e9e9e9" stroke-width="0.6"/>
<text transform="translate(469.81,223.20) scale(0.95,1)" font-size="5.5" text-anchor="middle" font-weight="normal" fill="#111" stroke="#111" stroke-width="0.2" >140</text>
<line x1="492.14" y1="77.5" x2="492.14" y2="212.8" stroke="#e9e9e9" stroke-width="0.6"/>
<text transform="translate(492.14,223.20) scale(0.95,1)" font-size="5.5" text-anchor="middle" font-weight="normal" fill="#111" stroke="#111" stroke-width="0.2" >160</text>
<line x1="514.47" y1="77.5" x2="514.47" y2="212.8" stroke="#e9e9e9" stroke-width="0.6"/>
<text transform="translate(514.47,223.20) scale(0.95,1)" font-size="5.5" text-anchor="middle" font-weight="normal" fill="#111" stroke="#111" stroke-width="0.2" >180</text>
<line x1="536.80" y1="77.5" x2="536.80" y2="212.8" stroke="#e9e9e9" stroke-width="0.6"/>
<text transform="translate(536.80,223.20) scale(0.95,1)" font-size="5.5" text-anchor="middle" font-weight="normal" fill="#111" stroke="#111" stroke-width="0.2" >200</text>
<line x1="313.5" y1="212.8" x2="536.8" y2="212.8" stroke="#cfcfcf" stroke-width="0.7"/>
<rect x="379" y="103" width="80" height="21" fill="#fff"/>
<rect x="441.5" y="189" width="85" height="21" fill="#fff"/>
<text transform="translate(292.20,145.8) rotate(-90)" font-size="5.6" text-anchor="middle" fill="#111" stroke="#111" stroke-width="0.2">Δ (ppm)</text>
<path d="M313.50,212.80 L313.78,210.05 L314.06,208.76 L314.62,206.87 L315.17,205.37 L315.73,204.09 L316.85,201.89 L317.97,200.00 L319.08,198.31 L321.32,195.34 L324.67,191.51 L326.90,189.25 L331.36,185.17 L335.83,181.53 L340.30,178.20 L344.76,175.11 L349.23,172.21 L353.69,169.46 L358.16,166.85 L362.63,164.36 L367.09,161.96 L371.56,159.65 L376.02,157.42 L380.49,155.26 L384.96,153.16 L389.42,151.12 L393.89,149.13 L398.35,147.19 L402.82,145.30 L407.29,143.45 L411.75,141.63 L416.22,139.85 L420.68,138.11 L425.15,136.40 L429.62,134.72 L434.08,133.06 L438.55,131.44 L443.01,129.84 L447.48,128.26 L451.95,126.71 L456.41,125.18 L460.88,123.67 L465.34,122.18 L469.81,120.71 L474.28,119.26 L478.74,117.83 L483.21,116.41 L487.67,115.01 L492.14,113.63 L496.61,112.26 L501.07,110.91 L505.54,109.57 L510.00,108.24 L514.47,106.93 L518.94,105.63 L523.40,104.34 L527.87,103.07 L532.33,101.80 L537.02,100.49" fill="none" stroke="#4472c4" stroke-width="0.9"/>
<path d="M313.50,212.80 L313.78,211.16 L314.06,210.50 L314.62,209.57 L315.17,208.86 L315.73,208.26 L316.85,207.27 L317.97,206.43 L319.08,205.69 L321.32,204.42 L324.67,202.82 L326.90,201.89 L331.36,200.24 L335.83,198.78 L340.30,197.48 L344.76,196.27 L349.23,195.16 L353.69,194.11 L358.16,193.12 L362.63,192.18 L367.09,191.28 L371.56,190.42 L376.02,189.59 L380.49,188.79 L384.96,188.02 L389.42,187.27 L393.89,186.55 L398.35,185.84 L402.82,185.16 L407.29,184.49 L411.75,183.83 L416.22,183.20 L420.68,182.57 L425.15,181.96 L429.62,181.36 L434.08,180.78 L438.55,180.20 L443.01,179.64 L447.48,179.08 L451.95,178.53 L456.41,178.00 L460.88,177.47 L465.34,176.95 L469.81,176.43 L474.28,175.93 L478.74,175.43 L483.21,174.94 L487.67,174.45 L492.14,173.98 L496.61,173.50 L501.07,173.04 L505.54,172.57 L510.00,172.12 L514.47,171.67 L518.94,171.22 L523.40,170.78 L527.87,170.35 L532.33,169.92 L537.02,169.47" fill="none" stroke="#ed7d31" stroke-width="0.9"/>
<circle cx="313.50" cy="212.80" r="1.4" fill="#2f62d6"/>
<circle cx="340.30" cy="171.76" r="1.4" fill="#2f62d6"/>
<circle cx="368.21" cy="163.19" r="1.4" fill="#2f62d6"/>
<circle cx="396.12" cy="144.25" r="1.4" fill="#2f62d6"/>
<circle cx="424.03" cy="139.74" r="1.4" fill="#2f62d6"/>
<circle cx="451.95" cy="130.27" r="1.4" fill="#2f62d6"/>
<circle cx="479.86" cy="121.25" r="1.4" fill="#2f62d6"/>
<circle cx="507.77" cy="98.70" r="1.4" fill="#2f62d6"/>
<circle cx="535.68" cy="90.13" r="1.4" fill="#2f62d6"/>
<circle cx="313.50" cy="212.80" r="1.4" fill="#f0721c"/>
<circle cx="340.30" cy="195.21" r="1.4" fill="#f0721c"/>
<circle cx="368.21" cy="190.25" r="1.4" fill="#f0721c"/>
<circle cx="396.12" cy="184.84" r="1.4" fill="#f0721c"/>
<circle cx="424.03" cy="182.13" r="1.4" fill="#f0721c"/>
<circle cx="451.95" cy="179.88" r="1.4" fill="#f0721c"/>
<circle cx="479.86" cy="176.72" r="1.4" fill="#f0721c"/>
<circle cx="507.77" cy="171.76" r="1.4" fill="#f0721c"/>
<circle cx="535.68" cy="169.50" r="1.4" fill="#f0721c"/>
<text transform="translate(425.55,232.40) scale(1.0,1)" font-size="5.8" text-anchor="middle" font-weight="normal" fill="#111" stroke="#111" stroke-width="0.2" >Equivalent of <tspan font-weight="bold">6a</tspan></text>
<circle cx="498.40" cy="230.1" r="2.0" fill="#2f62d6"/>
<text transform="translate(501.90,232.45) scale(1.0,1)" font-size="6.5" text-anchor="start" font-weight="normal" fill="#1a1a1a" stroke="#1a1a1a" stroke-width="0.22" >: H1</text>
<circle cx="521.00" cy="230.1" r="2.0" fill="#f0721c"/>
<text transform="translate(524.50,232.45) scale(1.0,1)" font-size="6.5" text-anchor="start" font-weight="normal" fill="#1a1a1a" stroke="#1a1a1a" stroke-width="0.22" >: H4</text>
<text transform="translate(113.20,131.70) scale(1.0,1)" font-size="8.1" text-anchor="start" font-weight="normal" fill="#111" stroke="#111" stroke-width="0.22" ><tspan font-style="italic">K</tspan> = 0.000014 (M<tspan font-size="5.4" dy="-3.4" dx="0.3">−1</tspan><tspan dy="3.4">)</tspan></text>
<text transform="translate(190.30,210.80) scale(1.0,1)" font-size="8.15" text-anchor="start" font-weight="normal" fill="#111" stroke="#111" stroke-width="0.22" ><tspan font-style="italic">K</tspan> = 0.000085 (M<tspan font-size="5.4" dy="-3.4" dx="0.3">−1</tspan><tspan dy="3.4">)</tspan></text>
<text transform="translate(381.00,111.40) scale(1.0,1)" font-size="8.35" text-anchor="start" font-weight="normal" fill="#111" stroke="#111" stroke-width="0.22" ><tspan font-style="italic">K</tspan> = 0.69 (M<tspan font-size="5.4" dy="-3.4" dx="0.3">−1</tspan><tspan dy="3.4">)</tspan></text>
<text transform="translate(381.00,121.40) scale(1.0,1)" font-size="8.35" text-anchor="start" font-weight="normal" fill="#111" stroke="#111" stroke-width="0.22" >Δ<tspan font-style="italic">G</tspan> = 0.92 (kJ mol<tspan font-size="5.4" dy="-3.4" dx="0.3">−1</tspan><tspan dy="3.4">)</tspan></text>
<text transform="translate(443.60,197.00) scale(1.0,1)" font-size="8.35" text-anchor="start" font-weight="normal" fill="#111" stroke="#111" stroke-width="0.22" ><tspan font-style="italic">K</tspan> = 1.53 (M<tspan font-size="5.4" dy="-3.4" dx="0.3">−1</tspan><tspan dy="3.4">)</tspan></text>
<text transform="translate(443.60,207.00) scale(1.0,1)" font-size="8.35" text-anchor="start" font-weight="normal" fill="#111" stroke="#111" stroke-width="0.22" >Δ<tspan font-style="italic">G</tspan> = −1.05 (kJ mol<tspan font-size="5.4" dy="-3.4" dx="0.3">−1</tspan><tspan dy="3.4">)</tspan></text>
</svg>
</body></html>
